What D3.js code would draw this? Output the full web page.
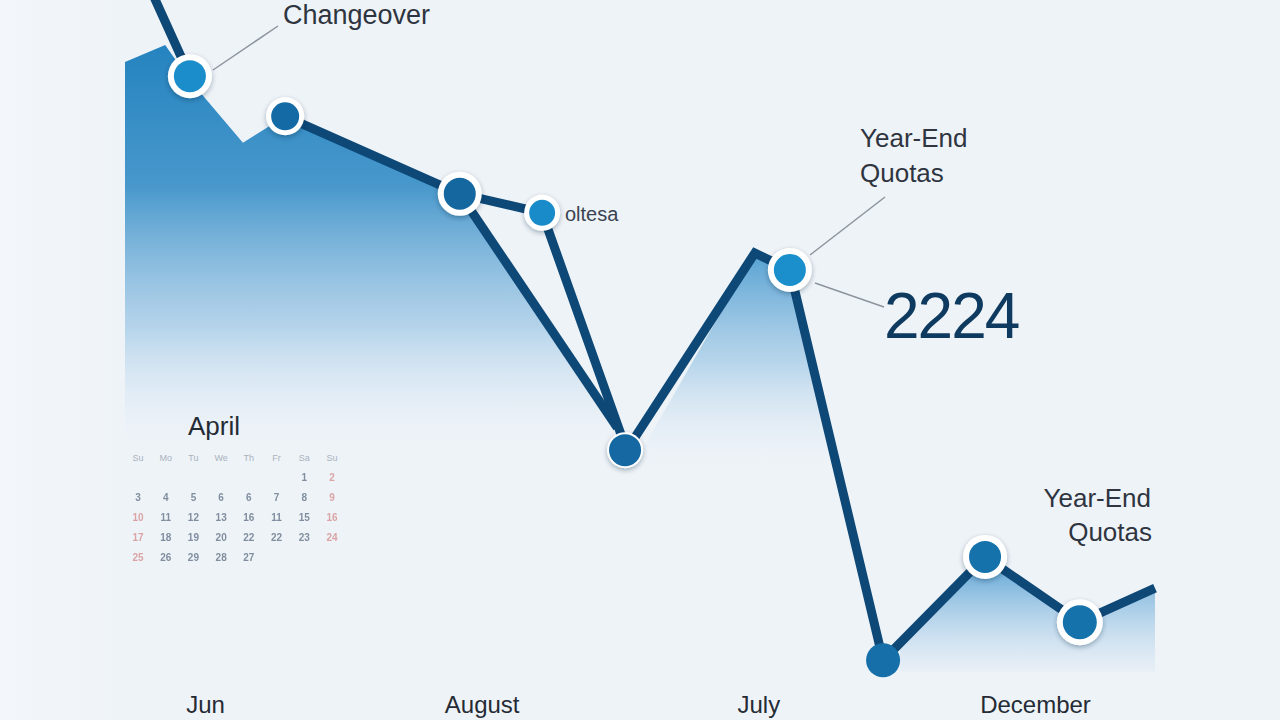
<!DOCTYPE html>
<html><head><meta charset="utf-8">
<script src="https://cdn.jsdelivr.net/npm/d3@7/dist/d3.min.js"></script>
<style>
html,body{margin:0;padding:0;background:#eef3f8;overflow:hidden}
svg{display:block}
text{font-family:"Liberation Sans",Arial,sans-serif}
</style></head>
<body>
<script>
// ---- data ----
const months = ["Jun", "August", "July", "December"];
// main line vertices (x index, value); null breaks the line
const lineX = [0.5, 1.26, null, 3.11, 6.50, 8.10, 9.74, 12.23, 12.91, 14.72, 16.70, 18.54, 20.0];
const lineY = [101.5, 88.8, null, 82.9, 71.5, 68.7, 33.8, 62.8, 60.3, 2.9, 18.1, 8.5, 13.5];
// secondary line
const line2X = [6.50, 9.56];
const line2Y = [71.5, 37.1];
// markers
const markerX = [1.26, 3.11, 6.50, 8.10, 9.71, 12.91, 14.72, 16.70, 18.54];
const markerY = [88.8, 82.9, 71.5, 68.7, 33.8, 60.3, 2.9, 18.1, 8.5];
const markerRing = [22, 19, 22, 18, 18, 22, 0, 22, 23];
const markerCore = [16, 14, 16, 13, 16, 16, 17, 16, 17];
const markerColor = ["#1b8dcb", "#146aa4", "#1567a0", "#1a8bc9", "#1568a1", "#1a8fcc", "#166fa8", "#1672ab", "#1672ab"];
// area pieces
const areaLeftX = [0, 0.78, 1.26, 2.29, 3.11, 6.50, 9.46, 10.0];
const areaLeftY = [90.9, 93.4, 88.2, 79.0, 82.9, 71.5, 37.1, 35.3];
const areaLeftBase = 34.0;
const areaMidX = [10.1, 12.23, 12.91, 13.83];
const areaMidY = [34.6, 62.8, 60.0, 30.9];
const areaMidBase = 30.9;
const areaRightX = [15.05, 16.70, 18.54, 20.0];
const areaRightY = [5.9, 18.1, 8.5, 13.5];
const areaRightBase = 1.2;
// calendar
const calHeaders = ["Su", "Mo", "Tu", "We", "Th", "Fr", "Sa", "Su"];
const calRows = [
  ["", "", "", "", "", "", "1", "2"],
  ["3", "4", "5", "6", "6", "7", "8", "9"],
  ["10", "11", "12", "13", "16", "11", "15", "16"],
  ["17", "18", "19", "20", "22", "22", "23", "24"],
  ["25", "26", "29", "28", "27", "", "", ""]
];

const W = 1280, H = 720;
const svg = d3.select("body").append("svg").attr("width", W).attr("height", H);
const defs = svg.append("defs");

const bg = defs.append("linearGradient").attr("id", "bg").attr("x1", 0).attr("x2", 1).attr("y1", 0).attr("y2", 0);
bg.append("stop").attr("offset", 0).attr("stop-color", "#f3f6fa");
bg.append("stop").attr("offset", 0.1).attr("stop-color", "#eef3f8");
bg.append("stop").attr("offset", 1).attr("stop-color", "#eef3f7");
svg.append("rect").attr("width", W).attr("height", H).attr("fill", "url(#bg)");

const fillGrad = defs.append("linearGradient").attr("id", "fillG").attr("x1", 0).attr("x2", 0).attr("y1", 0).attr("y2", 1);
fillGrad.append("stop").attr("offset", 0).attr("stop-color", "#2483bf").attr("stop-opacity", 1);
fillGrad.append("stop").attr("offset", 0.35).attr("stop-color", "#3f93c9").attr("stop-opacity", 0.95);
fillGrad.append("stop").attr("offset", 0.7).attr("stop-color", "#8fbfe2").attr("stop-opacity", 0.6);
fillGrad.append("stop").attr("offset", 1).attr("stop-color", "#e6eff8").attr("stop-opacity", 0);

const fillGradM = defs.append("linearGradient").attr("id", "fillM").attr("x1", 0).attr("x2", 0).attr("y1", 0).attr("y2", 1);
fillGradM.append("stop").attr("offset", 0).attr("stop-color", "#4e9dd0").attr("stop-opacity", 0.95);
fillGradM.append("stop").attr("offset", 0.5).attr("stop-color", "#90c0e2").attr("stop-opacity", 0.6);
fillGradM.append("stop").attr("offset", 1).attr("stop-color", "#e6eff8").attr("stop-opacity", 0);

const fillGradR = defs.append("linearGradient").attr("id", "fillR").attr("x1", 0).attr("x2", 0).attr("y1", 0).attr("y2", 1);
fillGradR.append("stop").attr("offset", 0).attr("stop-color", "#4a9ad0").attr("stop-opacity", 0.95);
fillGradR.append("stop").attr("offset", 1).attr("stop-color", "#dfeaf6").attr("stop-opacity", 0.4);

const sh = defs.append("filter").attr("id", "sh").attr("x", "-50%").attr("y", "-50%").attr("width", "200%").attr("height", "200%");
sh.append("feDropShadow").attr("dx", 0).attr("dy", 2).attr("stdDeviation", 2.5).attr("flood-color", "#0a2a45").attr("flood-opacity", 0.35);

const x = d3.scaleLinear().domain([0, 20]).range([125, 1155]);
const y = d3.scaleLinear().domain([0, 100]).range([680, 0]);

function pts(xs, ys) { return xs.map((v, i) => ({ x: v, y: ys[i] })); }

function drawArea(xs, ys, base, grad) {
  const a = d3.area().x(d => x(d.x)).y1(d => y(d.y)).y0(y(base));
  svg.append("path").attr("d", a(pts(xs, ys))).attr("fill", `url(#${grad})`);
}
drawArea(areaLeftX, areaLeftY, areaLeftBase, "fillG");
drawArea(areaMidX, areaMidY, areaMidBase, "fillM");
drawArea(areaRightX, areaRightY, areaRightBase, "fillR");

const lineGen = d3.line().defined(d => d.x !== null).x(d => x(d.x)).y(d => y(d.y));
svg.append("path").attr("d", lineGen(pts(line2X, line2Y)))
  .attr("fill", "none").attr("stroke", "#0d4877").attr("stroke-width", 9).attr("stroke-linecap", "butt");
svg.append("path").attr("d", lineGen(pts(lineX, lineY)))
  .attr("fill", "none").attr("stroke", "#0d4877").attr("stroke-width", 9).attr("stroke-linejoin", "miter").attr("stroke-linecap", "butt");

// leader lines
const leaders = [[213, 70, 278, 26], [810, 255, 885, 197], [815, 283, 884, 307]];
svg.selectAll(".ld").data(leaders).enter().append("line")
  .attr("x1", d => d[0]).attr("y1", d => d[1]).attr("x2", d => d[2]).attr("y2", d => d[3])
  .attr("stroke", "#8b949d").attr("stroke-width", 1.5);

// markers
const mk = svg.selectAll(".mk").data(pts(markerX, markerY)).enter().append("g")
  .attr("transform", d => `translate(${x(d.x)},${y(d.y)})`);
mk.filter((d, i) => markerRing[i] > 0).append("circle")
  .attr("r", d => markerRing[markerX.indexOf(d.x)])
  .attr("fill", "#ffffff").attr("filter", "url(#sh)");
mk.append("circle")
  .attr("r", d => markerCore[markerX.indexOf(d.x)])
  .attr("fill", d => markerColor[markerX.indexOf(d.x)]);

// texts
const txt = (t, tx, ty, fs, col, anchor, extra) => {
  const e = svg.append("text").attr("x", tx).attr("y", ty).attr("font-size", fs)
    .attr("fill", col).attr("text-anchor", anchor || "start").text(t);
  if (extra) extra(e);
  return e;
};
txt("Changeover", 283, 24, 27, "#2f3540");
txt("Year-End", 860, 147, 26, "#2f3540");
txt("Quotas", 860, 182, 26, "#2f3540");
txt("Year-End", 1151, 507, 26, "#2f3540", "end");
txt("Quotas", 1152, 541, 26, "#2f3540", "end");
txt("2224", 884, 338, 64, "#0e3a60", "start", e => e.attr("letter-spacing", -2));
txt("oltesa", 565, 221, 20, "#3a4350");
txt("April", 188, 435, 26, "#252b35");

// calendar
const calX = d3.scalePoint().domain(d3.range(8)).range([138, 332]);
const calY = d3.scalePoint().domain(d3.range(6)).range([461, 561]);
svg.selectAll(".ch").data(calHeaders).enter().append("text")
  .attr("x", (d, i) => calX(i)).attr("y", calY(0)).attr("text-anchor", "middle")
  .attr("font-size", 9).attr("fill", "#a9b2bc").text(d => d);
calRows.forEach((row, r) => {
  svg.selectAll(null).data(row).enter().append("text")
    .attr("x", (d, i) => calX(i)).attr("y", calY(r + 1)).attr("text-anchor", "middle")
    .attr("font-size", 10).attr("font-weight", "bold")
    .attr("fill", (d, i) => (i === 7 || (i === 0 && r >= 2)) ? "#d48a8a" : "#5b6c80")
    .attr("opacity", 0.75).text(d => d);
});

// x axis labels
const xm = d3.scalePoint().domain(months).range([205, 1035]);
const ax = svg.append("g").attr("transform", "translate(0,693)")
  .call(d3.axisBottom(xm).tickSize(0).tickPadding(3));
ax.select(".domain").remove();
ax.selectAll("text").attr("font-size", 24).attr("fill", "#252b35")
  .attr("font-family", "'Liberation Sans', Arial, sans-serif");
</script>
</body></html>
